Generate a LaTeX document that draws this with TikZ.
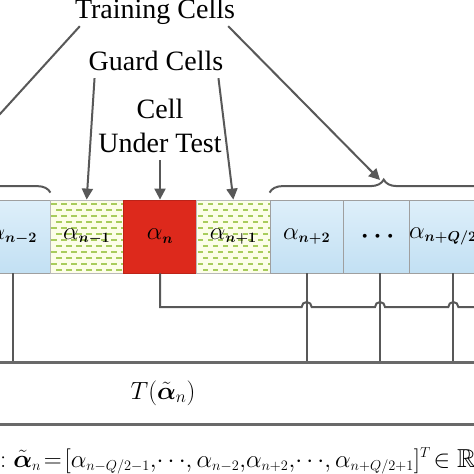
\documentclass[tikz,border=0pt]{standalone}
\usepackage{amsmath}
\usepackage{amssymb}
\usepackage{fontspec}
\setmainfont{Liberation Serif}
\usetikzlibrary{arrows.meta, positioning, decorations.pathreplacing, calc}
\DeclareMathSizes{28}{28}{16}{12}
\DeclareMathSizes{26}{26}{15}{11}
\DeclareMathSizes{32}{32}{15}{11}
\definecolor{wiregray}{RGB}{88,88,88}
\definecolor{celltop}{RGB}{222,239,250}
\definecolor{cellbot}{RGB}{194,224,243}
\definecolor{cutred}{RGB}{221,41,28}
\definecolor{guardbg}{RGB}{252,253,232}
\definecolor{guarddash}{RGB}{168,204,92}
\tikzset{
    trainbox/.style={
        rectangle,
        minimum width=73.33pt,
        minimum height=73pt,
        inner sep=0pt,
        draw=gray!75,
        line width=0.8pt,
        top color=celltop,
        bottom color=cellbot,
        font=\fontsize{32}{36}\selectfont
    },
    guardbox/.style={
        rectangle,
        minimum width=73.33pt,
        minimum height=73pt,
        inner sep=0pt,
        draw=gray!55,
        line width=0.8pt,
        fill=guardbg,
        font=\fontsize{32}{36}\selectfont,
        path picture={ % staggered green dashes
            \foreach \j in {0,...,11}{
                \pgfmathsetmacro{\off}{mod(\j,2)*5}
                \foreach \i in {0,...,7}{
                    \fill[guarddash] ($(path picture bounding box.north west)+(1+\i*10+\off,2.5+\j*6)$) rectangle ++(5.5,2.3);
                }
            }
        }
    },
    cutbox/.style={
        rectangle,
        minimum width=73.33pt,
        minimum height=73pt,
        inner sep=0pt,
        draw=cutred!85!black,
        line width=0.8pt,
        fill=cutred,
        font=\fontsize{32}{36}\selectfont
    },
    arrow/.style={
        wiregray,
        line width=2pt,
        -{Triangle[length=11pt,width=11pt]}
    },
    wire/.style={
        wiregray,
        line width=2pt
    }
}

\begin{document}
\begin{tikzpicture}[
    x=1pt, y=-1pt,
    every node/.style={font=\fontsize{28}{34}\selectfont},
    lbl/.style={inner sep=2pt, text depth=6pt, anchor=base},
    brace/.style={wiregray, line width=2pt, decorate, decoration={brace, amplitude=13pt}},
    detbox/.style={draw=wiregray!90, line width=3pt, minimum width=800pt, minimum height=62pt}
]
\useasboundingbox (0,0) rectangle (474,474);
\clip (0,0) rectangle (474,474);
% cells
\node[trainbox] (l1) at (13.33,236.5) {$\alpha_{\boldsymbol{n-2}}$};
\node[guardbox] (g1) at (86.67,236.5) {$\alpha_{\boldsymbol{n-1}}$};
\node[cutbox] (c0) at (160,236.5) {$\alpha_{\boldsymbol{n}}$};
\node[guardbox] (g2) at (233.33,236.5) {$\alpha_{\boldsymbol{n+1}}$};
\node[trainbox] (r1) at (306.67,236.5) {$\alpha_{\boldsymbol{n+2}}$};
\node[trainbox] (r2) at (380,236.5) {$\boldsymbol{\cdots}$};
\node[trainbox] (r3) at (453.33,236.5) {$\alpha_{\boldsymbol{n+Q/2+1}}$};
% labels
\node[lbl] (train) at (155,18) {Training Cells};
\node[lbl] (guard) at (156,70) {Guard Cells};
\node[lbl, align=center] (cut) at (160,152) {Cell\\Under Test};
% braces
\draw[brace] (-170,193) -- ([yshift=7pt]l1.north east);
\draw[brace] ([yshift=7pt]r1.north west) -- ([yshift=7pt]r3.north east);
\coordinate (lbr) at (-60,180);
\coordinate (rbr) at (380,180);
\draw[arrow] ([xshift=7pt]train.south west) -- (lbr);
\draw[arrow] ([xshift=-9pt]train.south east) -- (rbr);
\draw[arrow] ([xshift=8pt]guard.south west) -- (g1.north);
\draw[arrow] ([xshift=-7pt]guard.south east) -- (g2.north);
\draw[arrow] (cut.south) -- (c0.north);
% detector
\node[detbox] (det) at (163,393) {$T(\tilde{\boldsymbol{\alpha}}_n)$};
\draw[wire] (l1.south) -- (l1.south |- det.north);
\foreach \c in {r1,r2,r3}
    \draw[wire] (\c.south) -- (\c.south |- det.north);
\coordinate (bus) at (160,307);
\coordinate (busend) at (520,307);
\draw[wire] (c0.south) -- (bus)
    -- ($(r1.south |- bus)+(-5,0)$) arc[start angle=180, end angle=360, radius=5]
    -- ($(r2.south |- bus)+(-5,0)$) arc[start angle=180, end angle=360, radius=5]
    -- ($(r3.south |- bus)+(-5,0)$) arc[start angle=180, end angle=360, radius=5]
    -- (busend) -- (busend |- det.north);
% vector
\node[anchor=base west, inner sep=0pt, font=\fontsize{26}{30}\selectfont] (vec) at (0,467) {$:\tilde{\boldsymbol{\alpha}}_n\!=\![\alpha_{n-Q/2-1},\!\cdots\!,\alpha_{n-2},\!\alpha_{n+2},\!\cdots\!,\alpha_{n+Q/2+1}]^T\!\in\mathbb{R}^{Q}$};
\end{tikzpicture}
\end{document}
